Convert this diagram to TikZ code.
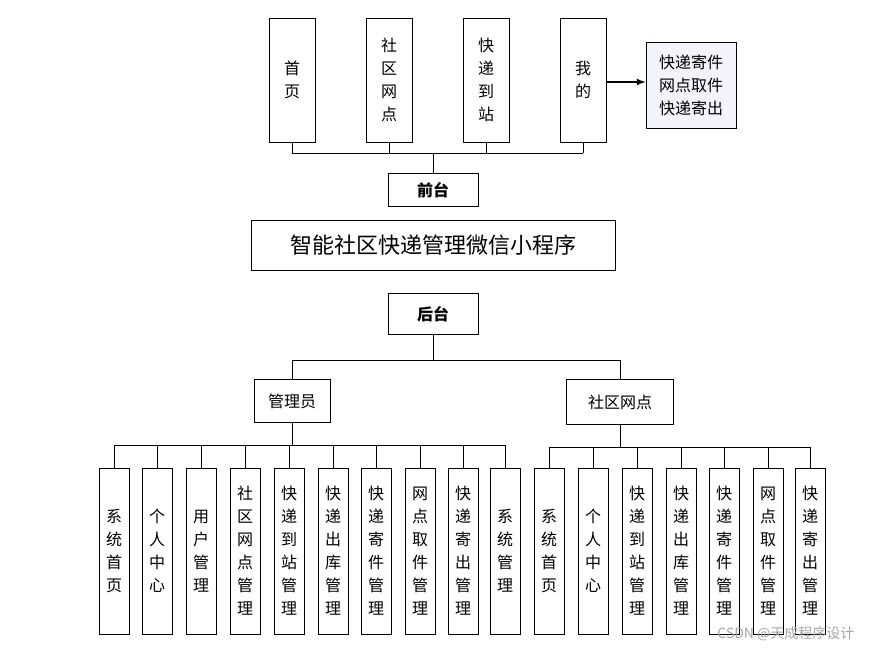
\documentclass[tikz,border=0pt]{standalone}
\usepackage{fontspec}
\setmainfont{Noto Sans CJK SC}
\begin{document}
\begin{tikzpicture}[x=1pt,y=-1pt,
  bx/.style={draw,thick,inner sep=0pt,align=center,font=\fontsize{16}{23}\selectfont},
  ln/.style={thick}]
\useasboundingbox (0,0) rectangle (871,652);
% top boxes
\node[bx,minimum width=46,minimum height=124] (t1) at (292,80) {首\\页};
\node[bx,minimum width=46,minimum height=124] (t2) at (389,80) {社\\区\\网\\点};
\node[bx,minimum width=46,minimum height=124] (t3) at (486,80) {快\\递\\到\\站};
\node[bx,minimum width=46,minimum height=124] (t4) at (583,80) {我\\的};
\node[bx,fill=gray!10!blue!5,minimum width=90,minimum height=86] (me) at (691,85) {快递寄件\\网点取件\\快递寄出};
\draw[ln,-latex,line width=2pt] (t4.east|-0,82) -- (me.west|-0,82);
\node[bx,font=\fontsize{16}{20}\selectfont\bfseries,minimum width=90,minimum height=33] (qt) at (433,190) {前台};
\node[bx,font=\fontsize{22}{26}\selectfont,minimum width=364,minimum height=50] (main) at (433,245) {智能社区快递管理微信小程序};
\node[bx,font=\fontsize{16}{20}\selectfont\bfseries,minimum width=90,minimum height=41] (ht) at (433,314) {后台};
\coordinate (j1) at (433,153);
\foreach \n in {t1,t2,t3,t4} \draw[ln] (\n.south) -- (\n.south|-j1);
\draw[ln] (t1.south|-j1) -- (t4.south|-j1);
\draw[ln] (j1) -- (qt.north);
\node[bx,minimum width=76,minimum height=43] (gl) at (292,401) {管理员};
\node[bx,minimum width=107,minimum height=45] (sq) at (620,402) {社区网点};
\coordinate (j2) at (433,360);
\draw[ln] (ht.south) -- (j2);
\draw[ln] (gl.north) -- (gl.north|-j2) -- (sq.north|-j2) -- (sq.north);
% bottom rows
\def\bh{166}
\foreach \x/\t [count=\i] in {114/系\\统\\首\\页,157/个\\人\\中\\心,201/用\\户\\管\\理,245/社\\区\\网\\点\\管\\理,289/快\\递\\到\\站\\管\\理,333/快\\递\\出\\库\\管\\理,376/快\\递\\寄\\件\\管\\理,420/网\\点\\取\\件\\管\\理,463/快\\递\\寄\\出\\管\\理,505/系\\统\\管\\理}{
  \node[bx,minimum width=30,minimum height=\bh] (a\i) at (\x,551) {\t};
  \draw[ln] (a\i.north) -- (\x,445);
}
\draw[ln] (114,445) -- (505,445);
\draw[ln] (gl.south) -- (gl.south|-0,445);
\foreach \x/\t [count=\i] in {549/系\\统\\首\\页,593/个\\人\\中\\心,637/快\\递\\到\\站\\管\\理,681/快\\递\\出\\库\\管\\理,724/快\\递\\寄\\件\\管\\理,768/网\\点\\取\\件\\管\\理,810/快\\递\\寄\\出\\管\\理}{
  \node[bx,minimum width=30,minimum height=\bh] (b\i) at (\x,551) {\t};
  \draw[ln] (b\i.north) -- (\x,447);
}
\draw[ln] (549,447) -- (810,447);
\draw[ln] (sq.south) -- (sq.south|-0,447);
\node[text=gray!70,font=\fontsize{14}{16}\selectfont,anchor=east] (wm) at (858,634) {CSDN @天成程序设计};
\end{tikzpicture}
\end{document}
